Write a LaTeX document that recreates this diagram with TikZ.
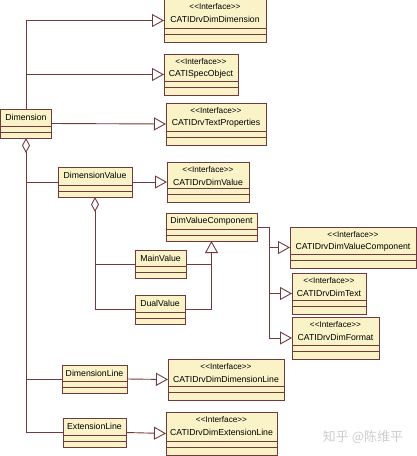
\documentclass[tikz,border=0pt]{standalone}
\usepackage{fontspec}
\setmainfont{Liberation Sans}
\newfontfamily\cjkfont{Noto Sans CJK SC}
\usetikzlibrary{arrows.meta}
\definecolor{boxfill}{RGB}{250,243,200}
\definecolor{umlline}{RGB}{115,58,62}
\definecolor{wmark}{RGB}{205,205,205}
\tikzset{
  umlbox/.style={draw=umlline, fill=boxfill, line width=0.9pt, anchor=north west, inner sep=0pt, outer sep=0pt},
  compline/.style={draw=umlline, line width=0.9pt},
  nametext/.style={font=\fontsize{8.7}{9}\selectfont, inner sep=0pt},
  stereotext/.style={font=\fontsize{8.2}{9}\selectfont, inner sep=0pt},
  conn/.style={draw=umlline, line width=0.9pt},
  realize/.style={conn, -{Triangle[open, length=12pt, width=13pt]}},
  composed/.style={conn, {Diamond[open, length=15pt, width=8pt]}-},
}
\newcommand\umlplain[6]{%
  \node[umlbox, minimum width=#4pt, minimum height=#5pt] (#1) at (#2,#3) {};
  \draw[compline] ([yshift=12pt]#1.south west) -- ([yshift=12pt]#1.south east);
  \draw[compline] ([yshift=6pt]#1.south west) -- ([yshift=6pt]#1.south east);
  \node[nametext] (#1-name) at ([yshift=-8.5pt]#1.north) {#6};
}
\newcommand\umliface[6]{%
  \node[umlbox, minimum width=#4pt, minimum height=#5pt] (#1) at (#2,#3) {};
  \draw[compline] ([yshift=14pt]#1.south west) -- ([yshift=14pt]#1.south east);
  \draw[compline] ([yshift=8pt]#1.south west) -- ([yshift=8pt]#1.south east);
  \node[stereotext] (#1-st) at ([yshift=-8pt]#1.north) {<\kern0pt<Interface>\kern0pt>};
  \node[nametext] (#1-name) at ([yshift=-20pt]#1.north) {#6};
}
\begin{document}
\begin{tikzpicture}[x=1pt, y=-1pt]
\useasboundingbox (0,0) rectangle (417,456);
% classes
\umlplain{dimension}{0.5}{109}{51}{29}{Dimension}
\umliface{idimdim}{164}{-1}{102}{43}{CATIDrvDimDimension}
\umliface{ispec}{164}{54}{74}{41}{CATISpecObject}
\umliface{itextprop}{166}{103}{100}{42}{CATIDrvTextProperties}
\umlplain{dimvalue}{58}{167}{74}{30}{DimensionValue}
\umliface{idimvalue}{167}{162}{82}{40}{CATIDrvDimValue}
\umlplain{dvc}{166}{213}{91}{28}{DimValueComponent}
\umlplain{mainvalue}{135}{250}{51}{28}{MainValue}
\umlplain{dualvalue}{135}{295}{50}{29}{DualValue}
\umliface{idvc}{290}{227}{126}{41}{CATIDrvDimValueComponent}
\umliface{itext}{292}{273}{74}{41}{CATIDrvDimText}
\umliface{iformat}{292}{317}{87}{42}{CATIDrvDimFormat}
\umlplain{dimline}{62}{365}{65}{28}{DimensionLine}
\umliface{idimline}{168}{359}{116}{41}{CATIDrvDimDimensionLine}
\umlplain{extline}{63}{418}{63}{29}{ExtensionLine}
\umliface{iextline}{166}{412}{111}{43}{CATIDrvDimExtensionLine}
% realizations of Dimension
\draw[realize] (dimension.north) |- (idimdim.west);
\draw[realize] (dimension.north) |- (ispec.west);
\draw[realize] (dimension.east) -- (itextprop.west);
% composition trunk
\draw[composed] (dimension.south) |- (extline.west);
\draw[conn] (dimension.south |- dimvalue.west) -- (dimvalue.west);
\draw[conn] (dimension.south |- dimline.west) -- (dimline.west);
% other realizations
\draw[realize] (dimvalue.east) -- (idimvalue.west);
\draw[realize] (dimline.east) -- (idimline.west);
\draw[realize] (extline.east) -- (iextline.west);
% DimensionValue aggregation
\draw[composed] (dimvalue.south) |- (dualvalue.west);
\draw[conn] (dimvalue.south |- mainvalue.west) -- (mainvalue.west);
% generalization
\draw[realize] (dualvalue.east) -| (dvc.south);
\draw[conn] (mainvalue.east) -- (mainvalue.east -| dvc.south);
% DimValueComponent realizations
\coordinate (bus) at (269,227);
\draw[conn] (dvc.east) -- (bus);
\draw[realize] (bus) |- (idvc.west);
\draw[realize] (bus) |- (itext.west);
\draw[realize] (bus) |- (iformat.west);
% watermark
\node[text=wmark, font=\cjkfont\fontsize{13}{14}\selectfont, inner sep=0pt] (wm) at (363,437) {知乎 @陈维平};
\end{tikzpicture}
\end{document}
